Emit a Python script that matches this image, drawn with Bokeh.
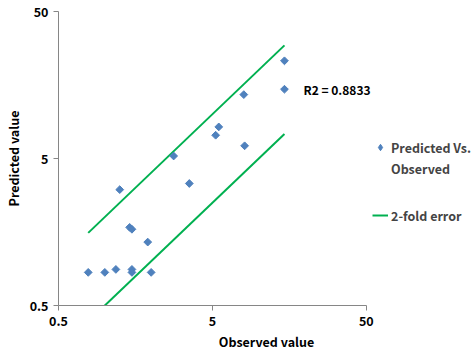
import math
from bokeh.plotting import figure
from bokeh.models import FixedTicker, BasicTickFormatter, Legend, LegendItem, Label, Range1d
from bokeh.embed import file_html
from bokeh.resources import INLINE

observed = [0.78, 1.0, 1.18, 1.5, 1.5, 2.0, 1.9, 1.45, 1.5, 1.25, 2.8, 3.54, 14.7, 14.7, 8.0, 5.5, 5.25, 8.1]
predicted = [0.84, 0.84, 0.88, 0.88, 0.84, 0.84, 1.35, 1.70, 1.65, 3.07, 5.2, 3.38, 23.1, 14.8, 13.6, 8.2, 7.2, 6.1]
fold_x = [0.78, 14.7]
fold_factor = 2.0
ticks = [0.5, 5, 50]
r2_text = "R2 = 0.8833"
legend_labels = ["Predicted Vs.", "Observed", "2-fold error"]

FONT = "Noto Sans CJK KR"
AXIS_COL = "#868686"
BLUE = "#4F81BD"
GREEN = "#00B050"

# frame extends to the right edge so the legend/label are not clipped;
# axis line is bounded to 0.5..50
x_end = 0.5 * 10 ** (419 / 155)
p = figure(width=474, height=356, x_axis_type="log", y_axis_type="log",
           x_range=Range1d(0.5, x_end), y_range=Range1d(0.5, 50),
           output_backend="svg", toolbar_location=None,
           min_border_left=55, min_border_right=0, min_border_top=11, min_border_bottom=51)
p.outline_line_color = None
p.grid.visible = False
p.background_fill_color = "white"
p.border_fill_color = "white"

for ax in (p.xaxis[0], p.yaxis[0]):
    ax.ticker = FixedTicker(ticks=ticks, minor_ticks=[])
    ax.formatter = BasicTickFormatter()
    ax.bounds = (0.5, 50)
    ax.axis_line_color = AXIS_COL
    ax.major_tick_line_color = AXIS_COL
    ax.major_tick_out = 5
    ax.major_tick_in = 0
    ax.minor_tick_line_color = None
    ax.major_label_text_font = FONT
    ax.major_label_text_font_style = "bold"
    ax.major_label_text_font_size = "12.5px"
    ax.major_label_text_color = "black"
    ax.axis_label_text_font = FONT
    ax.axis_label_text_font_style = "bold"
    ax.axis_label_text_font_size = "12.5px"
    ax.axis_label_text_color = "black"

p.xaxis.axis_label = "Observed value"
p.yaxis.axis_label = "Predicted value"
p.xaxis.major_label_standoff = 5
p.xaxis.axis_label_standoff = 3
p.yaxis.major_label_standoff = 5
p.yaxis.axis_label_standoff = 4

upper = [v * fold_factor for v in fold_x]
lower = [v / fold_factor for v in fold_x]
l1 = p.line(fold_x, upper, line_color=GREEN, line_width=2)
l2 = p.line(fold_x, lower, line_color=GREEN, line_width=2)
sc = p.scatter(observed, predicted, marker="square", angle=math.pi / 4, size=5.5,
               fill_color=BLUE, line_color=BLUE)
# renderers used only for legend swatches (no visible data)
nan = float("nan")
leg_marker = p.scatter(x=[nan], y=[nan], marker="diamond", size=8, fill_color=BLUE, line_color=BLUE)
leg_blank = p.scatter(x=[nan], y=[nan], marker="circle", size=1, fill_alpha=0, line_alpha=0)

p.add_layout(Label(x=observed[13], y=predicted[13], x_offset=19,
                   text=r2_text, text_font=FONT, text_font_style="bold", text_font_size="12px",
                   text_baseline="middle", text_color="black"))

common = dict(orientation="vertical", label_text_font=FONT, label_text_font_style="bold",
              label_text_font_size="12.5px", border_line_color=None, background_fill_alpha=0,
              margin=0, padding=4, glyph_width=16, label_standoff=3)

legend1 = Legend(items=[LegendItem(label=legend_labels[0], renderers=[leg_marker]),
                        LegendItem(label=legend_labels[1], renderers=[leg_blank])],
                 location=(314, 127), spacing=1, **common)
legend2 = Legend(items=[LegendItem(label=legend_labels[2], renderers=[l1])],
                 location=(314, 80), spacing=0, **common)
p.add_layout(legend1)
p.add_layout(legend2)

open("out.html", "w").write(file_html(p, INLINE))
